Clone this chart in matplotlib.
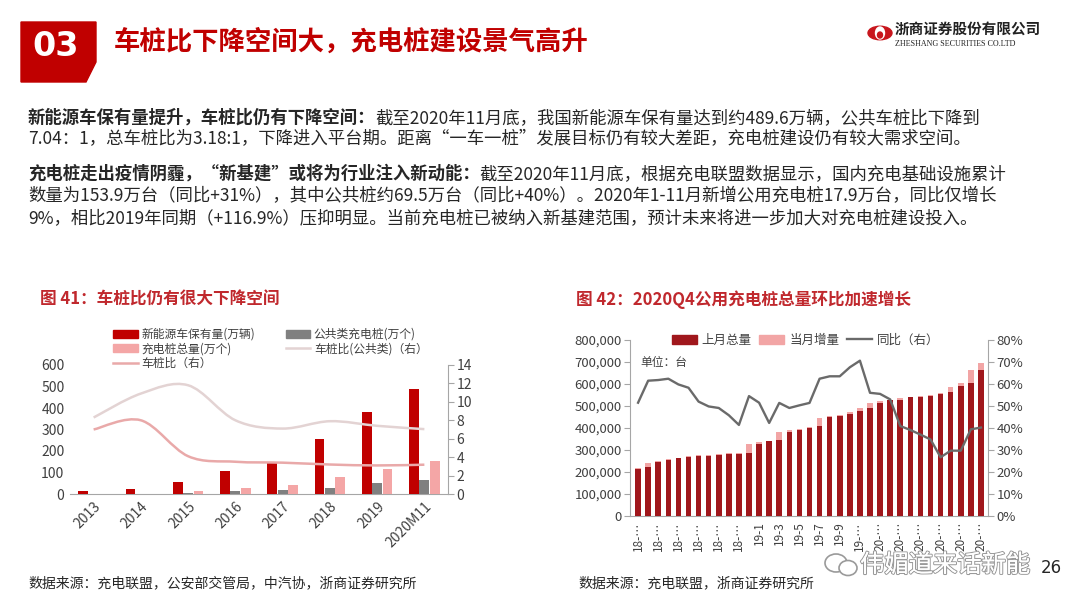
import numpy as np
import matplotlib.pyplot as plt
from matplotlib.patches import Polygon, Circle, Ellipse, PathPatch, Patch
from matplotlib.path import Path
from matplotlib.lines import Line2D
from matplotlib.ticker import FuncFormatter
import matplotlib.patheffects as pe

plt.rcParams['font.family'] = ['Noto Sans CJK SC', 'DejaVu Sans']

# ---------------- data: figure 41 ----------------
years = ['2013', '2014', '2015', '2016', '2017', '2018', '2019', '2020M11']
ev_stock = [15, 22, 56, 105, 148, 257, 380, 487]        # 新能源车保有量(万辆)
public_piles = [2, 2, 3, 13, 20, 30, 50, 66]            # 公共类充电桩(万个)
total_piles = [1, 0.5, 12, 29, 40, 79, 118, 152]        # 充电桩总量(万个)
ratio_public = [8.3, 10.9, 11.8, 8.0, 7.1, 7.9, 7.4, 7.04]  # 车桩比(公共类)
ratio_total = [7.0, 8.0, 4.1, 3.5, 3.4, 3.2, 3.1, 3.18]     # 车桩比

# ---------------- data: figure 42 ----------------
last_month_total = [214000, 221000, 244000, 255000, 262000, 268000, 273000, 274000,
                    279000, 282000, 283000, 286000, 329000, 339000, 345000, 382000,
                    391000, 400000, 409000, 448000, 456000, 464000, 476000, 492000,
                    512000, 527000, 527000, 539000, 542000, 547000, 553000, 565000,
                    589000, 606000, 664000]
month_increment = [6000, 20000, 4000, 3000, 3000, 3000, 3000, 3000,
                   3000, 3000, 3000, 43000, 7000, 3000, 37000, 7000,
                   6000, 6000, 35000, 5000, 3000, 10000, 16000, 20000,
                   12000, 0, 11000, 3000, 3000, 3000, 8000, 23000,
                   14000, 58000, 30000]
yoy = [51.5, 61.5, 61.8, 62.4, 59.8, 58.3, 52.0, 49.8, 49.1, 45.8, 41.4, 54.5,
       51.5, 42.3, 51.4, 49.1, 50.3, 51.4, 62.4, 63.5, 63.5, 67.6, 70.6, 56.0,
       55.5, 53.0, 40.9, 39.1, 37.0, 34.8, 26.7, 29.7, 29.7, 39.4, 40.2]
month_ticklabels = ['18-…'] * 6 + ['19-1', '19-3', '19-5', '19-7', '19-9', '19-…'] + ['20-…'] * 6

RED = '#C00000'
TITLE_RED = '#C0282D'
TXT = '#262626'
AX_TXT = '#404040'
SPINE = '#A6A6A6'

W, H = 1080, 608
fig = plt.figure(figsize=(10.8, 6.08), dpi=100)


def fx(x):
    return x / W


def fy(y):
    return 1 - y / H


# ---------------- header ----------------
box = Polygon([(fx(21), fy(22)), (fx(96), fy(22)), (fx(96), fy(62)),
               (fx(86), fy(82)), (fx(21), fy(82))], closed=True,
              transform=fig.transFigure, color=RED, zorder=1)
fig.patches.append(box)
fig.text(fx(56), fy(46), '03', color='white', fontsize=24, fontweight='bold',
         ha='center', va='center', family=['DejaVu Sans'])
fig.text(fx(114), fy(42), '车桩比下降空间大，充电桩建设景气高升', color=RED,
         fontsize=19, fontweight='bold', ha='left', va='center')

# logo
fig.patches.append(Circle((fx(880), fy(33)), 12 / W, transform=fig.transFigure,
                          color='#C8161D'))
fig.patches.append(Ellipse((fx(880), fy(33)), 9 / W, 12 / H, transform=fig.transFigure,
                           color='white'))
fig.patches.append(Ellipse((fx(880), fy(35)), 5 / W, 6 / H, transform=fig.transFigure,
                           color='#C8161D'))
fig.text(fx(895), fy(29), '浙商证券股份有限公司', color='#222222', fontsize=10.5,
         fontweight='bold', ha='left', va='center')
fig.text(fx(895), fy(44), 'ZHESHANG SECURITIES CO.LTD', color='#222222', fontsize=5.8,
         ha='left', va='center', family=['Liberation Serif'])

# ---------------- paragraphs ----------------
renderer = fig.canvas.get_renderer()


def rich_line(x, y, parts, size=12.5):
    xpos = fx(x)
    for txt, weight in parts:
        t = fig.text(xpos, fy(y), txt, fontsize=size, fontweight=weight,
                     color=TXT, ha='left', va='center')
        bb = t.get_window_extent(renderer)
        xpos = bb.x1 / W


rich_line(28, 118, [('新能源车保有量提升，车桩比仍有下降空间：', 'bold'),
                    ('截至2020年11月底，我国新能源车保有量达到约489.6万辆，公共车桩比下降到', 'normal')])
rich_line(28, 139, [('7.04：1，总车桩比为3.18:1，下降进入平台期。距离“一车一桩”发展目标仍有较大差距，充电桩建设仍有较大需求空间。', 'normal')])
rich_line(28, 174, [('充电桩走出疫情阴霾，“新基建”或将为行业注入新动能：', 'bold'),
                    ('截至2020年11月底，根据充电联盟数据显示，国内充电基础设施累计', 'normal')])
rich_line(28, 196, [('数量为153.9万台（同比+31%），其中公共桩约69.5万台（同比+40%）。2020年1-11月新增公用充电桩17.9万台，同比仅增长', 'normal')])
rich_line(28, 218, [('9%，相比2019年同期（+116.9%）压抑明显。当前充电桩已被纳入新基建范围，预计未来将进一步加大对充电桩建设投入。', 'normal')])

# chart titles
fig.text(fx(40), fy(300), '图 41：车桩比仍有很大下降空间', color=TITLE_RED, fontsize=12,
         fontweight='bold', ha='left', va='center')
fig.text(fx(576), fy(300), '图 42：2020Q4公用充电桩总量环比加速增长', color=TITLE_RED,
         fontsize=12, fontweight='bold', ha='left', va='center')

# ---------------- figure 41 ----------------
ax1 = fig.add_axes([fx(70), fy(494), fx(448) - fx(70), fy(365) - fy(494)])
x = np.arange(len(years))
bw = 0.21
ax1.bar(x - 0.22, ev_stock, bw, color=RED, zorder=3)
ax1.bar(x, public_piles, bw, color='#808080', zorder=3)
ax1.bar(x + 0.22, total_piles, bw, color='#F4A6A6', zorder=3)
ax1.set_xlim(-0.5, len(years) - 0.5)
ax1.set_ylim(0, 600)
ax1.set_yticks(range(0, 601, 100))
ax1.set_xticks(x)
ax1.set_xticklabels(years, rotation=45, ha='right', rotation_mode='anchor')
ax1.tick_params(axis='x', length=0, labelsize=10, colors=AX_TXT, pad=4)
ax1.tick_params(axis='y', length=0, labelsize=10, colors=AX_TXT, pad=4)
for s in ['top', 'left', 'right']:
    ax1.spines[s].set_visible(False)
ax1.spines['bottom'].set_color(SPINE)

ax1r = ax1.twinx()
ax1r.set_ylim(0, 14)
ax1r.set_yticks(range(0, 15, 2))
ax1r.tick_params(axis='y', labelsize=10, colors=AX_TXT, length=4, color=SPINE, pad=2)
for s in ['top', 'left', 'bottom']:
    ax1r.spines[s].set_visible(False)
ax1r.spines['right'].set_color(SPINE)


def smooth_path(xs, ys):
    pts = np.column_stack([xs, ys]).astype(float)
    verts = [pts[0]]
    codes = [Path.MOVETO]
    n = len(pts)
    for i in range(n - 1):
        p0 = pts[i - 1] if i > 0 else pts[i]
        p1 = pts[i]
        p2 = pts[i + 1]
        p3 = pts[i + 2] if i + 2 < n else pts[i + 1]
        verts += [p1 + (p2 - p0) / 6, p2 - (p3 - p1) / 6, p2]
        codes += [Path.CURVE4] * 3
    return Path(verts, codes)


ax1r.add_patch(PathPatch(smooth_path(x, ratio_public), fill=False, edgecolor='#E3D3D3',
                         lw=1.8, zorder=4))
ax1r.add_patch(PathPatch(smooth_path(x, ratio_total), fill=False, edgecolor='#E9A9A9',
                         lw=1.8, zorder=4))

h_ev = Patch(color=RED)
h_pub = Patch(color='#808080')
h_tot = Patch(color='#F4A6A6')
h_rp = Line2D([], [], color='#E3D3D3', lw=1.8)
h_rt = Line2D([], [], color='#E9A9A9', lw=1.8)
ax1.legend([h_ev, h_tot, h_rt, h_pub, h_rp],
           ['新能源车保有量(万辆)', '充电桩总量(万个)', '车桩比（右）',
            '公共类充电桩(万个)', '车桩比(公共类)（右）'],
           ncol=2, loc='upper left', bbox_to_anchor=(0.085, 1.37), frameon=False,
           fontsize=8.5, handletextpad=0.3, columnspacing=2.6, labelspacing=0.12,
           handlelength=2.1, labelcolor=AX_TXT)

# ---------------- figure 42 ----------------
ax2 = fig.add_axes([fx(630), fy(516), fx(988) - fx(630), fy(340) - fy(516)])
m = np.arange(len(last_month_total))
ax2.bar(m, last_month_total, 0.55, color='#A0171C', zorder=3)
ax2.bar(m, month_increment, 0.55, bottom=last_month_total, color='#F2A5A5', zorder=3)
ax2.set_xlim(-0.8, len(m) - 0.3)
ax2.set_ylim(0, 800000)
ax2.set_yticks(range(0, 800001, 100000))
ax2.yaxis.set_major_formatter(FuncFormatter(lambda v, p: f'{v:,.0f}'))
ax2.set_xticks(m[::2])
ax2.set_xticklabels(month_ticklabels, rotation=90, va='top')
ax2.tick_params(axis='x', length=0, labelsize=8.5, colors=AX_TXT, pad=4)
ax2.tick_params(axis='y', labelsize=9.5, colors=AX_TXT, length=4, color=SPINE, pad=2)
ax2.spines['top'].set_visible(False)
ax2.spines['right'].set_visible(False)
for s in ['left', 'bottom']:
    ax2.spines[s].set_color(SPINE)

ax2r = ax2.twinx()
ax2r.plot(m, yoy, color='#6A6A6A', lw=1.7, zorder=5)
ax2r.set_ylim(0, 80)
ax2r.set_yticks(range(0, 81, 10))
ax2r.yaxis.set_major_formatter(FuncFormatter(lambda v, p: f'{v:.0f}%'))
ax2r.tick_params(axis='y', labelsize=9.5, colors=AX_TXT, length=4, color=SPINE, pad=2)
for s in ['top', 'left', 'bottom']:
    ax2r.spines[s].set_visible(False)
ax2r.spines['right'].set_color(SPINE)

ax2.text(0.03, 0.87, '单位：台', transform=ax2.transAxes, fontsize=8.5, color=AX_TXT,
         ha='left', va='center')
ax2r.legend([Patch(color='#A0171C'), Patch(color='#F2A5A5'),
             Line2D([], [], color='#6A6A6A', lw=1.7)],
            ['上月总量', '当月增量', '同比（右）'], ncol=3, loc='center',
            bbox_to_anchor=(0.49, 1.0), frameon=False, fontsize=9,
            handletextpad=0.4, columnspacing=0.6, handlelength=2.0, labelcolor=AX_TXT)

# ---------------- footer ----------------
fig.text(fx(28), fy(583), '数据来源：充电联盟，公安部交管局，中汽协，浙商证券研究所',
         fontsize=10, color=TXT, ha='left', va='center')
fig.text(fx(578), fy(583), '数据来源：充电联盟，浙商证券研究所', fontsize=10, color=TXT,
         ha='left', va='center')

# watermark + page number
fig.patches.append(Ellipse((fx(836), fy(563)), 22 / W, 18 / H, transform=fig.transFigure,
                           fill=False, edgecolor='#9A9A9A', lw=1.2))
fig.patches.append(Ellipse((fx(848), fy(568)), 18 / W, 15 / H, transform=fig.transFigure,
                           facecolor='white', edgecolor='#9A9A9A', lw=1.2))
wm = fig.text(fx(860), fy(565), '伟媚道来话新能', fontsize=17.5, color='white',
              ha='left', va='center')
wm.set_path_effects([pe.withStroke(linewidth=1.6, foreground='#9A9A9A'), pe.Normal()])
fig.text(fx(1041), fy(568), '26', fontsize=12, color=TXT, ha='left', va='center',
         family=['DejaVu Sans'])

fig.savefig('out.png', dpi=100)
